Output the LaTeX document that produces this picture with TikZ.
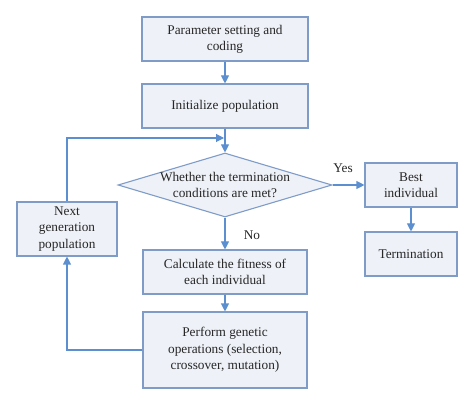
\documentclass[tikz,border=0pt]{standalone}
\usepackage{fontspec}
\setmainfont{Liberation Serif}
\usetikzlibrary{arrows.meta,shapes.geometric}
\definecolor{boxfill}{HTML}{EEF1F7}
\definecolor{boxdraw}{HTML}{7F9CC8}
\definecolor{arr}{HTML}{5B8FD0}
\begin{document}
\begin{tikzpicture}[x=1pt,y=-1pt,
  box/.style={draw=boxdraw,fill=boxfill,line width=1.1pt,inner sep=0pt,align=center,
     font=\fontsize{13.3}{16.3}\selectfont,text=black!85},
  dia/.style={draw=boxdraw,fill=boxfill,line width=1.1pt,diamond,inner sep=0pt,
     minimum width=214pt,minimum height=64pt},
  lbl/.style={font=\fontsize{13.3}{16.3}\selectfont,text=black!85,align=center},
  conn/.style={draw=arr,line width=1.1pt},
  arrow/.style={conn,-{Triangle[length=8pt,width=8pt]}}]
\useasboundingbox (0,0) rectangle (474,406);
\node[box,minimum width=166pt,minimum height=44pt] (b1) at (225,39) {Parameter setting and\\coding};
\node[box,minimum width=166pt,minimum height=44pt] (b2) at (225,106) {Initialize population};
\node[dia] (d) at (225,185) {};
\node[lbl] (dt) at (225,185) {Whether the termination\\conditions are met?};
\node[box,minimum width=92pt,minimum height=44pt] (best) at (411,185) {Best\\individual};
\node[box,minimum width=92pt,minimum height=44pt] (term) at (411,254) {Termination};
\node[box,minimum width=100pt,minimum height=54pt] (ngp) at (67,229) {Next\\generation\\population};
\node[box,minimum width=164pt,minimum height=44pt] (calc) at (225,272) {Calculate the fitness of\\each individual};
\node[box,minimum width=164pt,minimum height=76pt] (perf) at (225,350) {Perform genetic\\operations (selection,\\crossover, mutation)};
\coordinate (j) at (225,138);
\coordinate (c1) at (67,138);
\coordinate (c2) at (67,350);
\node[lbl] (yes) at (343,168) {Yes};
\node[lbl] (no) at (252,235) {No};
\draw[arrow] (b1) -- (b2);
\draw[arrow] (b2) -- (d.north);
\draw[arrow] (ngp.north) -- (c1) -- ([xshift=-1pt]j);
\draw[arrow] (d.east) -- (best.west);
\draw[arrow] (best) -- (term);
\draw[arrow] (d.south) -- (calc.north);
\draw[arrow] (calc) -- (perf);
\draw[arrow] (perf.west) -- (c2) -- (ngp.south);
\end{tikzpicture}
\end{document}
